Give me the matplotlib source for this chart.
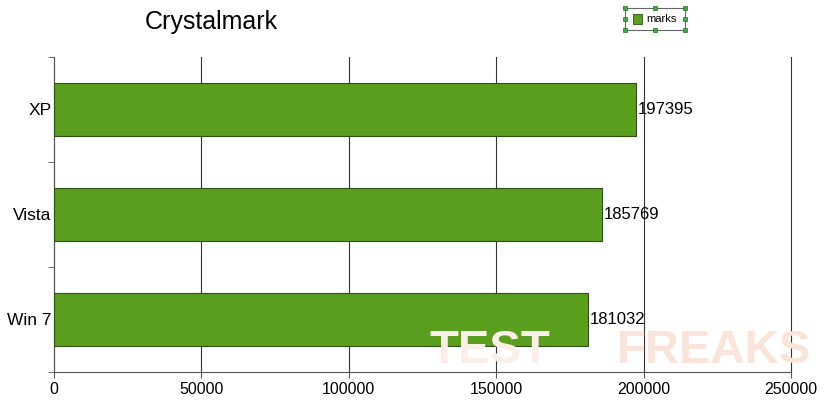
import matplotlib.pyplot as plt
from matplotlib.patches import Rectangle

categories = ['XP', 'Vista', 'Win 7']
marks = [197395, 185769, 181032]
x_ticks = [0, 50000, 100000, 150000, 200000, 250000]

plt.rcParams['font.family'] = ['Liberation Sans', 'DejaVu Sans']

fig = plt.figure(figsize=(8.3, 4.01), dpi=100)

# faint watermark, drawn under the axes
fig.text(0.59, 0.125, 'TEST', fontsize=34, fontweight='bold', color='#fbeee8',
         ha='center', va='center', zorder=0)
fig.text(0.86, 0.125, 'FREAKS', fontsize=34, fontweight='bold', color='#fae3d9',
         ha='center', va='center', zorder=0)

ax = fig.add_axes([0.0651, 0.0723, 0.888, 0.786])
ax.patch.set_alpha(0)

y_pos = list(range(len(categories)))[::-1]
ax.barh(y_pos, marks, height=0.5, color='#5a9e1e', edgecolor='#2f4f14',
        linewidth=0.8, label='marks', zorder=3)
for y, v in zip(y_pos, marks):
    ax.text(v + 700, y, str(v), va='center', ha='left', fontsize=12, zorder=4)

ax.set_xlim(0, 250000)
ax.set_ylim(-0.5, 2.5)
ax.set_xticks(x_ticks)
ax.set_xticklabels([str(t) for t in x_ticks], fontsize=11.5)
ax.set_yticks(y_pos)
ax.set_yticklabels(categories, fontsize=12.5)
ax.set_yticks([-0.5, 0.5, 1.5, 2.5], minor=True)
ax.tick_params(axis='y', which='major', length=0, pad=2)
ax.tick_params(axis='y', which='minor', length=4, color='#555555')
ax.tick_params(axis='x', length=4, color='#555555', pad=3)
ax.grid(axis='x', color='#333333', linewidth=0.8, zorder=0)
for gl in ax.get_xgridlines():
    gl.set_clip_on(False)
for s in ['top', 'right']:
    ax.spines[s].set_visible(False)
ax.spines['left'].set_color('#555555')
ax.spines['bottom'].set_color('#555555')

fig.text(0.255, 0.945, 'Crystalmark', fontsize=18, ha='center', va='center')

# legend with selection handles
lx0, ly0, lx1, ly1 = 625 / 830, 1 - 30 / 401, 685 / 830, 1 - 8 / 401
fig.patches.append(Rectangle((lx0, ly0), lx1 - lx0, ly1 - ly0, transform=fig.transFigure,
                             facecolor='white', edgecolor='#666666', linewidth=0.8))
fig.patches.append(Rectangle((633 / 830, 1 - 24 / 401), 9 / 830, 10 / 401,
                             transform=fig.transFigure, facecolor='#5a9e1e',
                             edgecolor='#2f4f14', linewidth=0.6))
fig.text(646 / 830, 1 - 19 / 401, 'marks', fontsize=8, va='center', ha='left')
hx = [lx0, (lx0 + lx1) / 2, lx1]
hy = [ly0, (ly0 + ly1) / 2, ly1]
for x in hx:
    for y in hy:
        if x == hx[1] and y == hy[1]:
            continue
        fig.patches.append(Rectangle((x - 2 / 830, y - 2 / 401), 4 / 830, 4 / 401,
                                     transform=fig.transFigure, facecolor='#3cb043',
                                     edgecolor='#1e6e1e', linewidth=0.5))

fig.savefig('out.png', dpi=100)
